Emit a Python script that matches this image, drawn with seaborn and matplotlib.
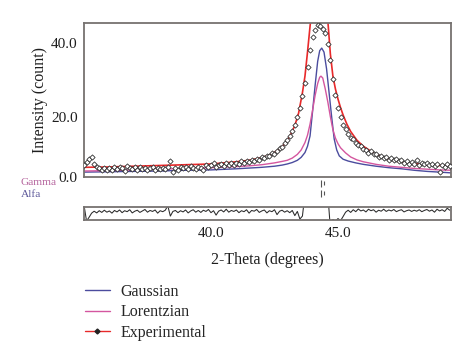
import numpy as np
import pandas as pd
import matplotlib
matplotlib.use("Agg")
import matplotlib.pyplot as plt
from matplotlib.lines import Line2D
import seaborn as sns

# ---------------- data ----------------
two_theta = np.round(np.arange(35.0, 49.45, 0.1), 2)

experimental = [
    6.8, 7.8, 8.6, 9.2, 7.3, 6.4,
    6.0, 5.6, 6.1, 5.5, 6.2,
    5.7, 6.3, 5.9, 6.5, 6.1, 5.4, 6.6, 6.0, 5.8, 6.4,
    5.5, 6.3, 5.9, 6.2, 5.7, 6.0, 6.5, 5.6, 6.2, 5.9,
    6.1, 5.8, 6.4, 7.9, 4.9, 6.2, 5.7, 6.5, 6.0, 6.3,
    5.8, 6.6, 6.1, 5.9, 6.4, 6.2, 5.7, 6.8, 6.3, 7.0,
    7.6, 6.5, 6.9, 7.2, 6.6, 7.4, 7.0, 7.5, 6.8, 7.6,
    7.3, 7.9, 7.4, 8.1, 7.7, 8.3, 8.0, 8.6, 8.2, 9.0,
    8.9, 9.5, 9.3, 10.2, 10.0, 10.8, 11.4, 11.9, 12.9, 13.6,
    14.9, 16.1, 17.8, 19.9, 22.4, 25.6, 29.2, 33.4, 38.2, 41.5,
    43.6, 44.9, 44.6, 43.9, 42.8,
    39.6, 35.4, 30.2, 25.8, 22.3,
    19.8, 17.9, 16.6, 15.3, 14.2,
    13.9, 13.0, 12.4, 12.1, 11.2,
    10.9, 10.3, 10.6, 9.8, 9.9,
    9.2, 9.5, 8.8, 9.1, 8.4,
    8.7, 8.2, 8.5, 7.9, 8.3,
    7.6, 8.0, 7.3, 7.8, 7.2,
    8.4, 7.0, 7.5, 7.1, 7.6,
    6.8, 7.3, 6.6, 7.2, 5.0,
    7.0, 6.5, 7.1, 6.6,
]

residual = [
    3.5, -3.0, -1.5, 0.2, 1.0, 0.3, 1.2, 0.5, 1.4, 0.6, 1.1,
    0.2, 1.3, 0.7, 1.5, 0.4, 1.2, 0.8, 1.6, 0.3, 1.0,
    1.4, 0.5, 1.1, 1.7, 0.6, 1.3, 0.9, 1.5, 0.2, 1.2,
    0.8, 1.4, 3.2, -1.0, 0.9, 1.3, 0.4, 1.2, 0.7, 1.5,
    0.3, 1.1, 1.6, 0.6, 1.3, 0.5, 1.4, 0.9, 1.7, 0.4,
    1.2, -0.6, 1.0, 1.5, 0.7, 1.8, 0.6, 1.3, 0.9, 1.5,
    0.4, 1.2, 0.8, 1.6, 0.2, 1.3, 1.0, 1.7, 0.5, 1.1,
    1.5, 0.3, 1.2, 0.8, 1.6, -0.4, 1.0, 1.4, 0.6, 1.2,
    0.4, 1.3, -0.8, 0.9, -2.2, -1.0, 8.0, 8.0, 8.0, 8.0,
    8.0, 8.0, 8.0, 8.0, 8.0,
    8.0, -6.0, -2.4, -3.2, -2.0,
    -2.9, -1.2, 0.6, 1.4, 0.5,
    1.6, 0.8, 1.9, 1.1, 1.5,
    0.7, 1.8, 1.2, 1.6, 0.6,
    1.4, 1.0, 1.8, 0.9, 1.5,
    1.1, 1.7, 0.8, 1.3, 1.6,
    0.7, 1.2, 1.5, 0.9, 1.4,
    1.0, 1.6, 0.8, 1.3, 1.7,
    1.0, 1.5, 0.6, 1.8, 1.1,
    1.6, 0.9, 2.2, 1.4,
]

gauss_x = [35.0, 36.0, 37.0, 38.0, 39.0, 40.0, 41.0, 41.5, 42.0, 42.5, 42.8,
           43.0, 43.2, 43.4, 43.55, 43.7, 43.8, 43.9, 44.0, 44.1, 44.2, 44.28,
           44.36, 44.45, 44.55, 44.65, 44.75, 44.85, 44.95, 45.05, 45.2, 45.4,
           45.7, 46.0, 46.5, 47.0, 47.5, 48.0, 48.5, 49.0, 49.45]
gauss_y = [5.0, 5.1, 5.2, 5.3, 5.5, 5.6, 5.9, 6.1, 6.3, 6.6, 6.9,
           7.2, 7.6, 8.2, 9.0, 10.3, 12.0, 14.8, 21.5, 28.5, 35.0, 37.9,
           38.6, 37.5, 33.0, 26.5, 20.0, 14.0, 11.0, 9.4, 8.5, 8.0,
           7.5, 7.1, 6.6, 6.2, 5.9, 5.5, 5.2, 5.0, 4.8]

lorentz_x = [35.0, 36.0, 37.0, 38.0, 39.0, 40.0, 41.0, 41.5, 42.0, 42.5, 42.8,
             43.0, 43.2, 43.4, 43.55, 43.7, 43.8, 43.9, 44.0, 44.1, 44.2, 44.28,
             44.33, 44.4, 44.5, 44.6, 44.7, 44.8, 44.9, 45.0, 45.1, 45.3, 45.5,
             45.75, 46.0, 46.5, 47.0, 47.5, 48.0, 48.5, 49.0, 49.45]
lorentz_y = [5.3, 5.4, 5.6, 5.8, 6.0, 6.2, 6.5, 6.7, 7.0, 7.5, 7.9,
             8.2, 8.8, 9.8, 11.0, 13.0, 15.0, 18.0, 21.8, 25.8, 29.0, 30.7,
             31.0, 30.5, 27.5, 24.0, 20.0, 16.5, 14.2, 12.7, 11.6, 10.2, 9.1,
             8.3, 7.8, 7.1, 6.6, 6.3, 6.0, 5.8, 5.6, 5.5]

fit_x = [35.0, 36.0, 37.0, 38.0, 39.0, 40.0, 40.5, 41.0, 41.5, 42.0, 42.4,
         42.7, 42.9, 43.1, 43.3, 43.45, 43.6, 43.7, 43.8, 43.9, 44.0, 44.1,
         44.2, 44.3, 44.4, 44.5, 44.6, 44.7, 44.8, 44.9, 45.0, 45.1, 45.2,
         45.35, 45.5, 45.75, 46.0, 46.4, 46.8, 47.2, 47.6, 48.0, 48.5, 49.0, 49.45]
fit_y = [6.3, 6.4, 6.6, 6.8, 7.0, 7.2, 7.5, 7.8, 8.2, 8.9, 9.9,
         11.2, 12.6, 14.6, 17.6, 21.0, 26.5, 31.0, 37.5, 44.5, 51.0, 57.0,
         61.0, 63.0, 61.5, 55.0, 46.0, 37.0, 31.0, 27.5, 24.8, 22.5, 20.5,
         18.0, 16.0, 13.6, 12.0, 10.2, 9.0, 8.1, 7.6, 7.3, 7.0, 6.8, 6.7]

peak_gamma = [44.33, 44.43]
peak_alfa = [44.33, 44.43]

x_ticks_major = [40.0, 45.0]
x_ticks_minor = [37.5, 42.5, 47.5]
y_ticks_major = [20.0, 40.0]
y_ticks_minor = [10.0, 30.0]

# ---------------- style ----------------
sns.set_style("white")
plt.rcParams['font.family'] = ['Liberation Serif', 'DejaVu Serif']
frame = "#767270"
c_gauss = "#4b4c9e"
c_lor = "#d4569f"
c_exp = "#e8292a"
txt = "#1e1e1e"

fig = plt.figure(figsize=(4.74, 3.61), dpi=100)

ax = fig.add_axes([0.1772, 0.5089, 0.7743, 0.4274])
axm = fig.add_axes([0.1772, 0.4515, 0.7743, 0.0526])
axr = fig.add_axes([0.1772, 0.3906, 0.7743, 0.0352])

df_exp = pd.DataFrame({"x": two_theta, "y": experimental})
df_g = pd.DataFrame({"x": gauss_x, "y": gauss_y})
df_l = pd.DataFrame({"x": lorentz_x, "y": lorentz_y})
df_f = pd.DataFrame({"x": fit_x, "y": fit_y})
df_r = pd.DataFrame({"x": two_theta, "y": residual})

sns.lineplot(data=df_g, x="x", y="y", ax=ax, color=c_gauss, lw=1.0, sort=False)
sns.lineplot(data=df_l, x="x", y="y", ax=ax, color=c_lor, lw=1.0, sort=False)
sns.lineplot(data=df_f, x="x", y="y", ax=ax, color=c_exp, lw=1.2, sort=False)
sns.scatterplot(data=df_exp, x="x", y="y", ax=ax, marker="D", s=7,
                facecolor="white", edgecolor="#222222", linewidth=0.55, zorder=5)

ylo, yhi = 3.6, 45.4
ax.set_xlim(35.0, 49.45)
ax.set_ylim(ylo, yhi)
ax.set_yticks([ylo] + y_ticks_major)
ax.set_yticklabels(["0.0", "20.0", "40.0"], fontsize=11)
ax.set_yticks(y_ticks_minor, minor=True)
ax.set_xticks(x_ticks_major)
ax.set_xticks(x_ticks_minor, minor=True)
ax.tick_params(axis="both", which="major", direction="in", length=6, width=1,
               color=frame, labelcolor=txt, pad=4.5)
ax.tick_params(axis="both", which="minor", direction="in", length=3, width=1,
               color=frame)
ax.tick_params(axis="x", which="both", labelbottom=False)
ax.set_xlabel("")
ax.set_ylabel("Intensity (count)", fontsize=11.5, color=txt, labelpad=2)
for s in ax.spines.values():
    s.set_color(frame)
    s.set_linewidth(1.3)

# peak position markers
axm.set_xlim(35.0, 49.45)
axm.set_ylim(0, 2)
axm.vlines(peak_gamma, [1.15, 1.35], [1.85, 1.75], color="#555555", lw=0.8)
axm.vlines(peak_alfa, [0.15, 0.3], [0.85, 0.75], color="#555555", lw=0.8)
axm.axis("off")
fig.text(0.044, 0.4931, "Gamma", fontsize=8.2, color="#b4629c", va="center", ha="left")
fig.text(0.044, 0.4612, "Alfa", fontsize=8.2, color="#5a5598", va="center", ha="left")

# residual panel
sns.lineplot(data=df_r, x="x", y="y", ax=axr, color="#2a2a2a", lw=0.75, sort=False)
axr.set_xlim(35.0, 49.45)
axr.set_ylim(-2.6, 2.6)
axr.set_yticks([])
axr.set_xticks(x_ticks_major)
axr.set_xticklabels(["40.0", "45.0"], fontsize=11)
axr.set_xticks(x_ticks_minor, minor=True)
axr.tick_params(axis="x", which="major", direction="in", length=5, width=1,
                color=frame, labelcolor=txt, pad=5)
axr.tick_params(axis="x", which="minor", direction="in", length=3, width=1,
                color=frame)
axr.set_ylabel("")
axr.set_xlabel("2-Theta (degrees)", fontsize=11.5, color=txt, labelpad=9)
for s in axr.spines.values():
    s.set_color(frame)
    s.set_linewidth(1.3)

# legend
handles = [
    Line2D([], [], color=c_gauss, lw=1.0),
    Line2D([], [], color=c_lor, lw=1.0),
    Line2D([], [], color=c_exp, lw=1.0, marker="D", markersize=2.5,
           markerfacecolor="#222222", markeredgecolor="#222222"),
]
fig.legend(handles, ["Gaussian", "Lorentzian", "Experimental"],
           loc="upper left", bbox_to_anchor=(0.179, 0.2133), frameon=False,
           fontsize=11.5, handlelength=1.56, handletextpad=0.69, labelspacing=0.28,
           borderpad=0, borderaxespad=0, numpoints=1)

fig.savefig("out.png", dpi=100)
